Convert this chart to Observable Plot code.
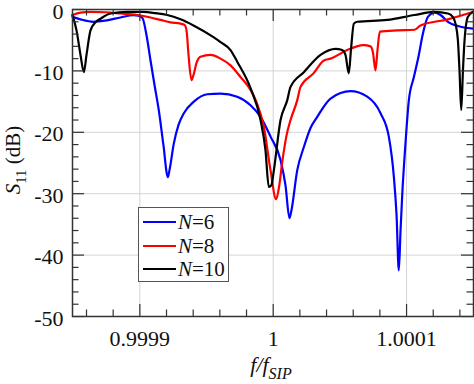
<!DOCTYPE html>
<html><head><meta charset="utf-8">
<script src="https://cdn.jsdelivr.net/npm/d3@7"></script>
<script src="https://cdn.jsdelivr.net/npm/@observablehq/plot@0.6"></script>
<style>
body{margin:0;background:#fff;font-family:"Liberation Serif",serif;}
#wrap{position:relative;width:474px;height:384px;}
#legend{position:absolute;left:138px;top:207px;width:91px;height:75px;box-sizing:border-box;border:1.5px solid #555;background:#fff;}
.row{position:absolute;left:0;height:24px;width:90px;}
.ln{position:absolute;left:3.5px;top:11px;width:33px;border-top:2.2px solid #000;}
.tx{position:absolute;left:39px;top:0;font-size:21px;line-height:24px;color:#111;white-space:nowrap;}
</style></head><body><div id="wrap"></div>
<script>
// x values are offsets of f/f_SIP from 1, in units of 1e-6
const seriesNames = ["N=6", "N=8", "N=10"];
const seriesColors = ["#0000ff", "#ff0000", "#000000"];

const n6X = [-150.5,-144.5,-134.8,-125.8,-114.5,-104.8,-101,-98,-95,-92,-89,-85.8,-82.3,-79,-77.8,-74.5,-71,-67,-59.5,-49.5,-39.5,-27,-17,-9.5,-2,5.5,9.2,12.2,13.7,18,23,28,33,43,58,70.5,80.5,86.7,90.5,92.5,94.2,95.5,96.8,99.2,101.7,105.5,109.2,112,116,121,125.5,131,138.5,149.7];
const n6Y = [-1.2,-1.6,-2.0,-1.8,-1.3,-0.9,-1.0,-1.4,-4.2,-8.3,-12.3,-16.4,-22.1,-27.3,-26.2,-21.8,-18.8,-16.9,-15.0,-13.8,-13.7,-14.2,-15.6,-17.5,-20.7,-24.5,-28.6,-34.0,-32.7,-26.2,-22.4,-19.3,-17.5,-14.5,-13.3,-14.2,-16.9,-20.7,-27.3,-33.5,-42.5,-35.9,-30,-21.8,-14.8,-11.0,-7.4,-4.2,-1.2,-0.5,-0.9,-2.0,-2.7,-3.1];

const n8X = [-150.5,-144.5,-137,-125.8,-114.5,-102,-92,-84.5,-77,-69.5,-66.5,-65,-63.5,-61.3,-59.8,-57.5,-54.5,-47,-39.5,-32,-24.5,-17,-12.5,-7,-2,2.2,4,7,10,13,18,20.5,30.2,38,43,55.5,67.7,73,74.8,76.7,78.2,80,93,106,110.5,131,149.7];
const n8Y = [-0.9,-0.5,-0.4,-0.45,-0.65,-0.9,-1.3,-1.7,-2.1,-2.3,-2.5,-3.4,-7.4,-11.5,-10.7,-8.7,-7.7,-7.4,-8.0,-9.1,-11.0,-13.1,-15.1,-19.1,-26.2,-30.9,-29.4,-24.5,-20.5,-18.0,-14.8,-12.6,-10.4,-8.3,-8.0,-6.6,-5.8,-6.0,-7.0,-9.9,-6.6,-3.6,-3.4,-3.3,-2.6,-1.6,-0.4];

const n10X = [-150.5,-147.5,-144.5,-142,-140,-137,-133.3,-129.5,-122,-109.5,-97.3,-88.3,-79.5,-69.5,-59.8,-44.8,-39.5,-32,-27,-17,-9.5,-5.8,-3.3,-1.3,0.5,5.5,10.5,13,23,35.5,46.7,51.7,54.2,56.7,58.3,60.5,63,85.5,106,121,131,134.7,136.7,138.5,139.7,141,142.3,143.5,146,149.7];
const n10Y = [-0.9,-3.4,-7.4,-10.2,-7.4,-3.4,-2.1,-1.5,-0.65,-0.4,-0.4,-0.6,-0.9,-1.6,-2.6,-4.5,-5.3,-6.6,-8.5,-12.8,-18.0,-22.9,-28.9,-28.6,-26.2,-18.0,-14.8,-12.6,-10.2,-7.4,-6.4,-6.6,-7.4,-10.4,-6.6,-2.3,-2.0,-1.7,-0.9,-0.4,-0.65,-1.2,-2.3,-5.0,-9.9,-16.4,-9.9,-5.0,-1.2,-0.4];

const xMajor = [-100, 0, 100];
const xTickLabels = ["0.9999", "1", "1.0001"];
const xMinor = [-140,-120,-80,-60,-40,-20,20,40,60,80,120,140];
const yMajor = [0, -10, -20, -30, -40, -50];
const yTickLabels = ["0", "-10", "-20", "-30", "-40", "-50"];
const yMinor = [-48,-46,-44,-42,-38,-36,-34,-32,-28,-26,-24,-22,-18,-16,-14,-12,-8,-6,-4,-2];

const allX = [n6X, n8X, n10X];
const allY = [n6Y, n8Y, n10Y];
const rows = [];
seriesNames.forEach((name, k) => {
  allX[k].forEach((x, i) => rows.push({name, x, y: allY[k][i]}));
});

const FONT = "Liberation Serif";
const W = 474, H = 384, mL = 72, mR = 1, mT = 9, mB = 68;
const fw = W - mL - mR, fh = H - mT - mB;
const axisColor = "#333";

const chart = Plot.plot({
  width: W, height: H,
  marginLeft: mL, marginRight: mR, marginTop: mT, marginBottom: mB,
  style: {fontFamily: FONT, fontSize: "22px", color: "#111", background: "#fff"},
  x: {domain: [-150.5, 150.2]},
  y: {domain: [-50, 0]},
  color: {domain: seriesNames, range: seriesColors},
  marks: [
    Plot.gridX(xMajor, {stroke: "#d4d4d4", strokeOpacity: 1, strokeWidth: 1}),
    Plot.gridY(yMajor.slice(1, 5), {stroke: "#d4d4d4", strokeOpacity: 1, strokeWidth: 1}),
    Plot.line(rows, {x: "x", y: "y", z: "name", stroke: "name", strokeWidth: 2.2, curve: "monotone-x"}),
    Plot.tickX(xMajor, {x: d => d, insetTop: fh - 12, stroke: axisColor, strokeWidth: 1.2}),
    Plot.tickX(xMinor, {x: d => d, insetTop: fh - 6.5, stroke: axisColor, strokeWidth: 1.2}),
    Plot.tickX(xMajor, {x: d => d, insetBottom: fh - 12, stroke: axisColor, strokeWidth: 1.2}),
    Plot.tickX(xMinor, {x: d => d, insetBottom: fh - 6.5, stroke: axisColor, strokeWidth: 1.2}),
    Plot.tickY(yMajor, {y: d => d, insetRight: fw - 12, stroke: axisColor, strokeWidth: 1.2}),
    Plot.tickY(yMinor, {y: d => d, insetRight: fw - 6.5, stroke: axisColor, strokeWidth: 1.2}),
    Plot.tickY(yMajor, {y: d => d, insetLeft: fw - 12, stroke: axisColor, strokeWidth: 1.2}),
    Plot.tickY(yMinor, {y: d => d, insetLeft: fw - 6.5, stroke: axisColor, strokeWidth: 1.2}),
    Plot.frame({stroke: axisColor, strokeWidth: 1.5}),
    Plot.axisX(xMajor, {tickSize: 0, tickPadding: 14, fontSize: 22, label: null, fontFamily: FONT,
      tickFormat: d => xTickLabels[xMajor.indexOf(d)]}),
    Plot.axisY(yMajor, {tickSize: 0, tickPadding: 9, fontSize: 22, label: null, fontFamily: FONT, dy: 2,
      tickFormat: d => yTickLabels[yMajor.indexOf(d)]})
  ]
});

const wrap = document.getElementById("wrap");
wrap.appendChild(chart);

const svg = d3.select(chart);
const yl = svg.append("text")
  .attr("transform", "translate(20,160) rotate(-90)")
  .attr("text-anchor", "middle")
  .attr("font-family", FONT).attr("font-size", 21).attr("fill", "#111");
yl.append("tspan").attr("font-style", "italic").text("S");
yl.append("tspan").attr("font-size", 15).attr("dy", 6).text("11");
yl.append("tspan").attr("dy", -6).text(" (dB)");

const xl = svg.append("text")
  .attr("x", 271).attr("y", 372)
  .attr("text-anchor", "middle")
  .attr("font-family", FONT).attr("font-size", 22).attr("fill", "#111")
  .attr("font-style", "italic");
xl.append("tspan").text("f/f");
xl.append("tspan").attr("font-size", 16).attr("dy", 7).text("SIP");

const lg = document.createElement("div");
lg.id = "legend";
const rowTops = [2, 25.5, 48.5];
seriesNames.forEach((name, k) => {
  const r = document.createElement("div");
  r.className = "row";
  r.style.top = rowTops[k] + "px";
  const l = document.createElement("div");
  l.className = "ln";
  l.style.borderTopColor = seriesColors[k];
  const t = document.createElement("div");
  t.className = "tx";
  const parts = name.split("=");
  t.innerHTML = "<i>" + parts[0] + "</i>=" + parts[1];
  r.appendChild(l); r.appendChild(t);
  lg.appendChild(r);
});
wrap.appendChild(lg);
</script>
</body></html>
